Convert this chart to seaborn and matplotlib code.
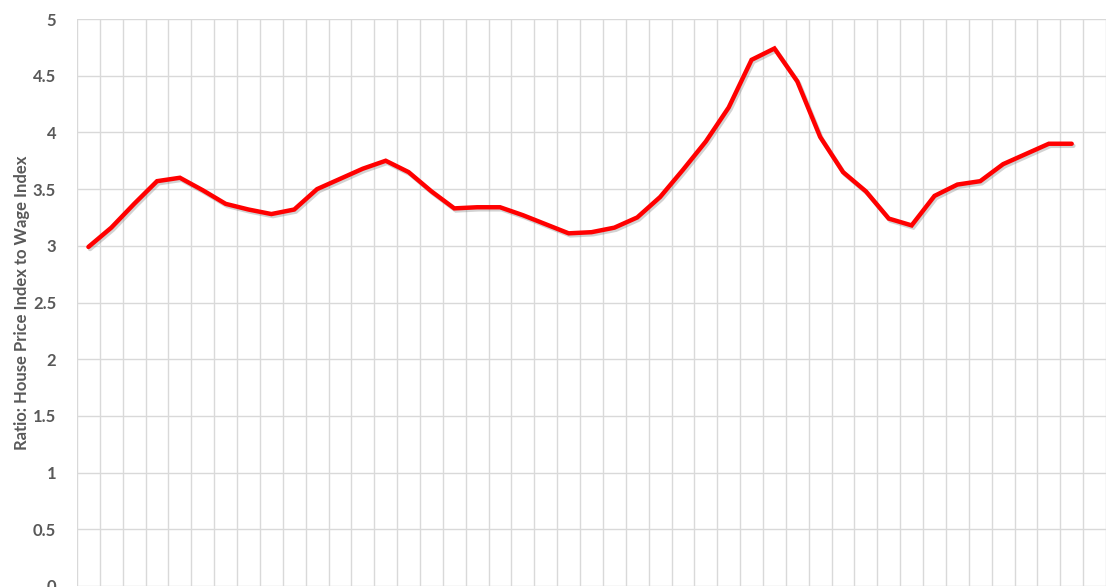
import numpy as np
import pandas as pd
import seaborn as sns
import matplotlib.pyplot as plt
import matplotlib.patheffects as pe

# Данные: годы (категории оси X) и отношение индекса цен на жильё к индексу зарплат
years = list(range(1976, 2021))
ratio = [2.99, 3.16, 3.37, 3.57, 3.60, 3.49, 3.37, 3.32, 3.28, 3.32,
         3.50, 3.59, 3.68, 3.75, 3.65, 3.48, 3.33, 3.34, 3.34, 3.27,
         3.19, 3.11, 3.12, 3.16, 3.25, 3.43, 3.67, 3.92, 4.22, 4.64,
         4.74, 4.45, 3.96, 3.65, 3.48, 3.24, 3.18, 3.44, 3.54, 3.57,
         3.72, 3.81, 3.90, 3.90, np.nan]
y_ticks = [0, 0.5, 1, 1.5, 2, 2.5, 3, 3.5, 4, 4.5, 5]
y_tick_labels = ['0', '0.5', '1', '1.5', '2', '2.5', '3', '3.5', '4', '4.5', '5']

df = pd.DataFrame({'Year': years, 'Ratio': ratio})

sns.set_theme(style='white')
plt.rcParams['font.family'] = ['Lato', 'DejaVu Sans']

W, H = 1117, 587
fig = plt.figure(figsize=(W / 100, H / 100), dpi=100)
ax = fig.add_axes([77 / W, 1 / H, 1029 / W, 567 / H])

sns.lineplot(data=df, x='Year', y='Ratio', ax=ax, color='#FF0000', linewidth=3.2,
             solid_joinstyle='miter',
             path_effects=[pe.SimpleLineShadow(offset=(1.2, -1.5), shadow_color='gray', alpha=0.35),
                           pe.Normal()])

# Границы категорий — вертикальная сетка
ax.set_xlim(years[0] - 0.5, years[-1] + 0.5)
ax.set_xticks([y - 0.5 for y in years] + [years[-1] + 0.5])
ax.set_xticklabels([])
ax.tick_params(axis='x', length=0)

ax.set_ylim(0, 5)
ax.set_yticks(y_ticks)
ax.set_yticklabels(y_tick_labels, fontsize=12, fontweight='bold', color='#595959')
ax.tick_params(axis='y', length=0, pad=15)

ax.grid(True, color='#D9D9D9', linewidth=1)
for s in ax.spines.values():
    s.set_visible(False)

ax.set_xlabel('')
ax.set_ylabel('Ratio: House Price Index to Wage Index', fontsize=12,
              fontweight='bold', color='#595959')
ax.yaxis.set_label_coords(-47 / 1029, 0.50)

fig.savefig('out.png', dpi=100)
